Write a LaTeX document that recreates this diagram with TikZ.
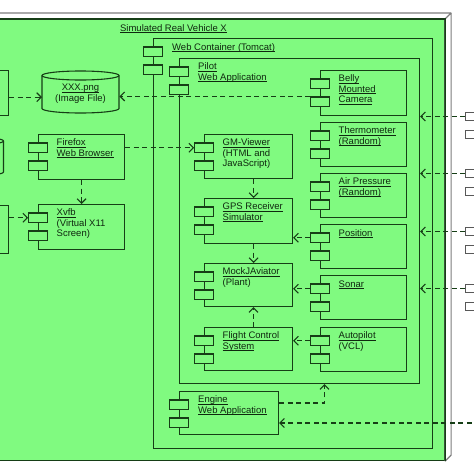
\documentclass[tikz,border=0pt]{standalone}
\usepackage{fontspec}
\setmainfont{Liberation Sans}
\usetikzlibrary{arrows.meta,calc}
\definecolor{gf}{RGB}{128,250,128}
\definecolor{lc}{RGB}{22,62,22}
\definecolor{tc}{RGB}{15,40,15}
\definecolor{fr}{RGB}{125,125,125}
\newsavebox\ulbox
\newcommand\myul[1]{\sbox\ulbox{#1}\rlap{\rule[-1.5pt]{\wd\ulbox}{0.6pt}}\usebox\ulbox}
\tikzset{
  box/.style={draw=lc, fill=gf, line width=1.1pt, anchor=north west, inner sep=0pt},
  icon/.style={draw=lc, fill=gf, line width=1.1pt, inner sep=0pt, minimum width=18.5pt, minimum height=9.5pt},
  xicon/.style={draw=fr!70!black, fill=white, line width=1.1pt, inner sep=0pt, anchor=north west, minimum width=20pt, minimum height=8pt},
  lab/.style={anchor=north west, inner sep=0pt, align=left, text=tc, font=\fontsize{9.5}{10.5}\selectfont, execute at begin node=\strut},
  dep/.style={draw=lc, line width=1.1pt, dash pattern=on 5pt off 3.5pt, -{Straight Barb[length=4.5pt,width=9pt]}},
  face/.style={draw=fr, fill=white, line width=1.2pt, line join=bevel},
}
\newcommand\comp[5]{%
  \node[box, minimum width=#4, minimum height=#5] (#1) at (#2,#3) {};
  \node[icon] (#1-i1) at ([shift={(0,13.75)}]#1.north west) {};
  \node[icon] (#1-i2) at ([shift={(0,31.75)}]#1.north west) {};
}
\begin{document}
\begin{tikzpicture}[x=1pt,y=-1pt]
\useasboundingbox (0,0) rectangle (474,474);
\clip (0,0) rectangle (474,474);
% outer 3D node
\node[box, minimum width=464, minimum height=441] (veh) at (-20,19) {};
\draw[face] (veh.north west) -- ++(6,-6) -- ([shift={(6,-6)}]veh.north east) -- (veh.north east) -- cycle;
\draw[face] (veh.north east) -- ++(6,-6) -- ([shift={(6,-6)}]veh.south east) -- (veh.south east) -- cycle;
\draw[lc, line width=1.1pt] (veh.north west) -- (veh.north east) -- (veh.south east);
\node[lab, anchor=north east] (veh-t) at (227,23.6) {\myul{Simulated Real Vehicle X}};

% left partial elements
\node[box, anchor=north east, minimum width=40, minimum height=45] (lb1) at (9,70) {};
\node[box, anchor=north east, minimum width=40, minimum height=48] (lb3) at (9,205) {};
\draw[lc, fill=gf, line width=1.1pt] (-46.5,141) -- (-46.5,172) arc (180:0:25 and 3.5) -- (3.5,141) arc (0:-180:25 and 3.5) -- cycle;
\draw[lc, line width=1.1pt] (-46.5,141) arc (180:0:25 and 3.5);

% image file cylinder
\node[inner sep=0pt, minimum width=77, minimum height=42, anchor=north west] (img) at (42,71) {};
\draw[lc, fill=gf, line width=1.1pt] (42,75.5) -- (42,108.5) arc (180:0:38.5 and 4.5) -- (119,75.5) arc (0:-180:38.5 and 4.5) -- cycle;
\draw[lc, line width=1.1pt] (42,75.5) arc (180:0:38.5 and 4.5);
\node[lab, anchor=north, align=center] (img-t) at (80.5,84.2) {\myul{XXX.png}\\(Image File)};
\coordinate (img-w) at ([yshift=-5pt]img.west);
\coordinate (img-e) at ([yshift=-5pt]img.east);

% firefox, xvfb
\comp{ff}{38}{134}{86}{45}
\node[lab] (ff-t) at (56.5,138.65) {\myul{Firefox}\\\myul{Web Browser}};
\comp{xvfb}{38}{204}{86}{45}
\node[lab] (xvfb-t) at (56.5,208.65) {\myul{Xvfb}\\(Virtual X11\\Screen)};

% web container
\comp{webc}{153}{38}{279}{410}
\node[lab] (webc-t) at (172,42.65) {\myul{Web Container (Tomcat)}};
% pilot
\comp{pilot}{179}{58}{240}{325}
\node[lab] (pilot-t) at (198,62.65) {\myul{Pilot}\\\myul{Web Application}};
% engine
\comp{engine}{179}{391}{99}{43}
\node[lab] (engine-t) at (198,395.65) {\myul{Engine}\\\myul{Web Application}};

% middle column
\comp{gm}{204}{134}{88}{44}
\node[lab] (gm-t) at (222.5,138.65) {\myul{GM-Viewer}\\(HTML and\\JavaScript)};
\comp{gps}{204}{198}{88}{45}
\node[lab] (gps-t) at (222.5,202.65) {\myul{GPS Receiver}\\\myul{Simulator}};
\comp{mock}{204}{263}{88}{43}
\node[lab] (mock-t) at (222.5,267.65) {\myul{MockJAviator}\\(Plant)};
\comp{flight}{204}{327}{88}{43}
\node[lab] (flight-t) at (222.5,331.65) {\myul{Flight Control}\\\myul{System}};

% right column
\comp{belly}{320}{70}{86}{45}
\node[lab] (belly-t) at (338.5,74.65) {\myul{Belly}\\\myul{Mounted}\\\myul{Camera}};
\comp{thermo}{320}{122}{86}{44}
\node[lab] (thermo-t) at (338.5,126.65) {\myul{Thermometer}\\\myul{(Random)}};
\comp{air}{320}{173}{86}{44}
\node[lab] (air-t) at (338.5,177.65) {\myul{Air Pressure}\\\myul{(Random)}};
\comp{pos}{320}{224}{86}{44}
\node[lab] (pos-t) at (338.5,228.65) {\myul{Position}};
\comp{sonar}{320}{275}{86}{44}
\node[lab] (sonar-t) at (338.5,279.65) {\myul{Sonar}};
\comp{auto}{320}{327}{86}{44}
\node[lab] (auto-t) at (338.5,331.65) {\myul{Autopilot}\\(VCL)};

% external icons (right, outside)
\node[xicon] (ex1-i1) at (465,112) {};
\node[xicon] (ex1-i2) at (465,130) {};
\node[xicon] (ex2-i1) at (465,169) {};
\node[xicon] (ex2-i2) at (465,187) {};
\node[xicon] (ex3-i1) at (465,227) {};
\node[xicon] (ex3-i2) at (465,245) {};
\node[xicon] (ex4-i1) at (465,284) {};
\node[xicon] (ex4-i2) at (465,302) {};
\coordinate (extb) at (480,423);

% connectors
\draw[dep] (lb1.east |- img-w) -- (img-w);
\draw[dep] (belly-i2.north west) -- (img-e |- belly-i2.north west);
\draw[dep] (ff.south) -- (xvfb.north);
\draw[dep] (lb3.east |- xvfb-i1.west) -- (xvfb-i1.west);
\draw[dep] (ff.east |- gm-i1.west) -- (gm-i1.west);
\draw[dep] ([xshift=5pt]gm.south) -- ([xshift=5pt]gps.north);
\draw[dep] ([xshift=5pt]gps.south) -- ([xshift=5pt]mock.north);
\draw[dep] ([xshift=5pt]flight.north) -- ([xshift=5pt]mock.south);
\draw[dep] (pos-i1.west) -- (gps.east |- pos-i1.west);
\draw[dep] (sonar-i1.west) -- (mock.east |- sonar-i1.west);
\draw[dep] (auto-i1.west) -- (flight.east |- auto-i1.west);
\draw[dep] ([yshift=-12pt]engine.north east) -| ([xshift=25pt]pilot.south);
\draw[dep] (ex1-i1.west) -- (pilot.east |- ex1-i1.west);
\draw[dep] (ex2-i1.west) -- (pilot.east |- ex2-i1.west);
\draw[dep] (ex3-i1.west) -- (pilot.east |- ex3-i1.west);
\draw[dep] (ex4-i1.west) -- (pilot.east |- ex4-i1.west);
\draw[dep] (extb) -- (engine.east |- extb);
\end{tikzpicture}
\end{document}
